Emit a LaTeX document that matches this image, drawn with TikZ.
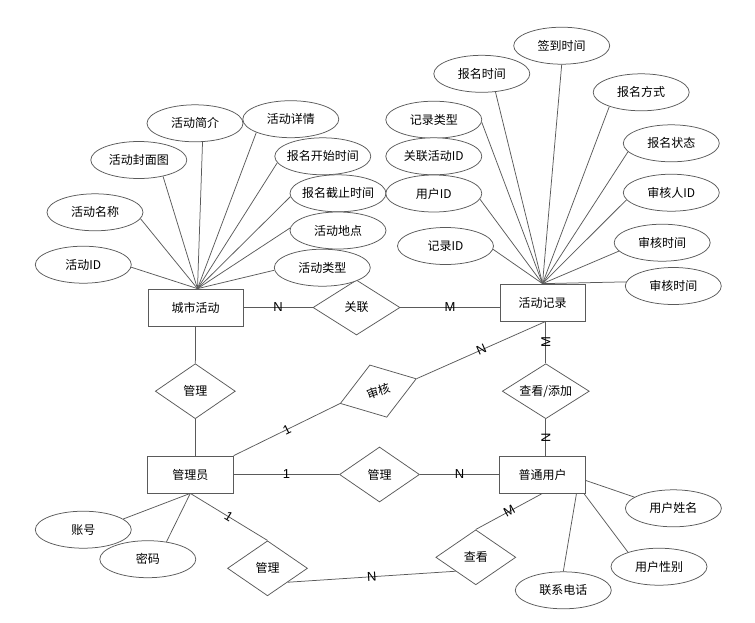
\documentclass[tikz,border=0pt]{standalone}
\usepackage{fontspec}
\setmainfont{Noto Sans CJK SC}
\newfontfamily\labfont{Liberation Sans}
\usetikzlibrary{shapes.geometric,calc}
\definecolor{lc}{HTML}{5A5A5A}
\newcommand{\zwtext}[1]{\makebox[0pt]{#1}}
\begin{document}
\begin{tikzpicture}[x=1pt,y=-1pt,
  attr/.style={ellipse, draw=lc, fill=white, line width=0.75pt, minimum width=96pt, minimum height=37pt, inner sep=0pt, font=\fontsize{12}{14}\selectfont},
  ent/.style={rectangle, draw=lc, fill=white, line width=0.75pt, minimum width=86pt, minimum height=37pt, inner sep=0pt, font=\fontsize{12}{14}\selectfont},
  rel/.style={diamond, draw=lc, fill=white, line width=0.75pt, aspect=1.5, minimum width=80pt, minimum height=55pt, inner sep=0pt, font=\fontsize{12}{14}\selectfont},
  conn/.style={draw=lc, line width=0.75pt},
  lbl/.style={font=\labfont\fontsize{13}{14}\selectfont, sloped, inner sep=0pt},
  lblv/.style={font=\labfont\fontsize{13}{14}\selectfont, rotate=90, inner sep=0pt}
]
\useasboundingbox (0,0) rectangle (755,622);

% entities
\node[ent, minimum width=95pt] (city) at (195.5,307.5) {城市活动};
\node[ent, minimum width=85pt] (rec) at (542.5,302.5) {活动记录};
\node[ent] (admin) at (190.3,474.5) {管理员};
\node[ent] (user) at (542.5,474.5) {普通用户};

% relationships
\node[rel, minimum width=87pt] (guanlian) at (356.5,307.5) {关联};
\node[rel] (m1) at (195.3,391.2) {管理};
\node[rel, rotate=18] (shenhe) at (378.3,391.1) {审核};
\node[rel, minimum width=87pt] (qa) at (545.8,391.2) {查看/添加};
\node[rel] (m2) at (379.5,474.5) {管理};
\node[rel] (m3) at (267.5,568.3) {管理};
\node[rel] (chakan) at (475.8,557.3) {查看};

% city attributes
\node[attr] (c1) at (83.3,264.7) {\zwtext{活动ID}};
\node[attr] (c2) at (95,212.3) {\zwtext{活动名称}};
\node[attr] (c3) at (138.8,160) {\zwtext{活动封面图}};
\node[attr] (c4) at (195,123.3) {\zwtext{活动简介}};
\node[attr] (c5) at (290.8,119.2) {\zwtext{活动详情}};
\node[attr] (c6) at (322.8,156.3) {\zwtext{报名开始时间}};
\node[attr] (c7) at (338,193.3) {\zwtext{报名截止时间}};
\node[attr] (c8) at (338,230.5) {\zwtext{活动地点}};
\node[attr] (c9) at (322.3,267.7) {\zwtext{活动类型}};

% record attributes
\node[attr] (r1) at (561.7,45.7) {\zwtext{签到时间}};
\node[attr] (r2) at (481.8,73.8) {\zwtext{报名时间}};
\node[attr] (r3) at (641.2,92.3) {\zwtext{报名方式}};
\node[attr] (r4) at (433.8,119.7) {\zwtext{记录类型}};
\node[attr] (r5) at (433.8,156.3) {\zwtext{关联活动ID}};
\node[attr] (r6) at (671.3,143.3) {\zwtext{报名状态}};
\node[attr] (r7) at (433.8,193.5) {\zwtext{用户ID}};
\node[attr] (r8) at (671.3,192.7) {\zwtext{审核人ID}};
\node[attr] (r9) at (445.5,246) {\zwtext{记录ID}};
\node[attr] (r10) at (662.2,242.7) {\zwtext{审核时间}};
\node[attr] (r11) at (673.3,286) {\zwtext{审核时间}};

% admin attributes
\node[attr] (a1) at (83.3,529.7) {\zwtext{账号}};
\node[attr] (a2) at (147.8,559.2) {\zwtext{密码}};

% user attributes
\node[attr] (u1n) at (673.4,508.3) {\zwtext{用户姓名}};
\node[attr] (u2n) at (659,566.7) {\zwtext{用户性别}};
\node[attr] (u3n) at (563.3,590.3) {\zwtext{联系电话}};

\coordinate (cj) at ($(city.north)+(2,0)$);
\coordinate (u1) at ($(user.east)+(0,6)$);
\coordinate (u2) at ($(user.south east)+(-2,0)$);
\coordinate (u3) at ($(user.south)+(34,0)$);

% attribute connectors (city)
\draw[conn] (c1.-3) -- (cj);
\draw[conn] (c2.-8) -- (cj);
\draw[conn] (c3.-34) -- (cj);
\draw[conn] (c4.-68) -- (cj);
\draw[conn] (c5.-159) -- (cj);
\draw[conn] (c6.-172) -- (cj);
\draw[conn] (c7.-176) -- (cj);
\draw[conn] (c8.177) -- (cj);
\draw[conn] (c9.-177) -- (cj);
% attribute connectors (record)
\draw[conn] (r1.south) -- (rec.north);
\draw[conn] (r2.-53) -- (rec.north);
\draw[conn] (r3.-156) -- (rec.north);
\draw[conn] (r4.-3) -- (rec.north);
\draw[conn] (r6.-169) -- (rec.north);
\draw[conn] (r7.-7) -- (rec.north);
\draw[conn] (r8.-171) -- (rec.north);
\draw[conn] (r9.-4) -- (rec.north);
\draw[conn] (r10.-169) -- (rec.north);
\draw[conn] (r11.175) -- (rec.north);
% attribute connectors (admin, user)
\draw[conn] (a1.15) -- (admin.south);
\draw[conn] (a2.43) -- (admin.south);
\draw[conn] (u1n.164) -- (u1);
\draw[conn] (u2n.155) -- (u2);
\draw[conn] (u3n.north) -- (u3);

% relationship connectors
\draw[conn] (city) -- node[lbl]{N} (guanlian);
\draw[conn] (guanlian.east) -- node[lbl]{M} (guanlian.east -| rec.west);
\draw[conn] (city) -- (m1);
\draw[conn] (m1.south) -- (m1.south |- admin.north);
\draw[conn] (admin.north east) -- node[lbl]{1} (shenhe.west);
\draw[conn] (shenhe.east) -- node[lbl]{N} (qa.north |- rec.south);
\draw[conn] (qa.north) -- node[lblv]{M} (qa.north |- rec.south);
\draw[conn] (qa.south |- user.north) -- node[lblv]{N} (qa.south);
\draw[conn] (admin) -- node[lbl]{1} (m2);
\draw[conn] (m2) -- node[lbl]{N} (user);
\draw[conn] (admin.south) -- node[lbl]{1} (m3.north);
\draw[conn] (m3.south east) -- node[lbl]{N} (chakan.south west);
\draw[conn] (chakan.north) -- node[lbl]{M} (user.south);
\end{tikzpicture}
\end{document}
